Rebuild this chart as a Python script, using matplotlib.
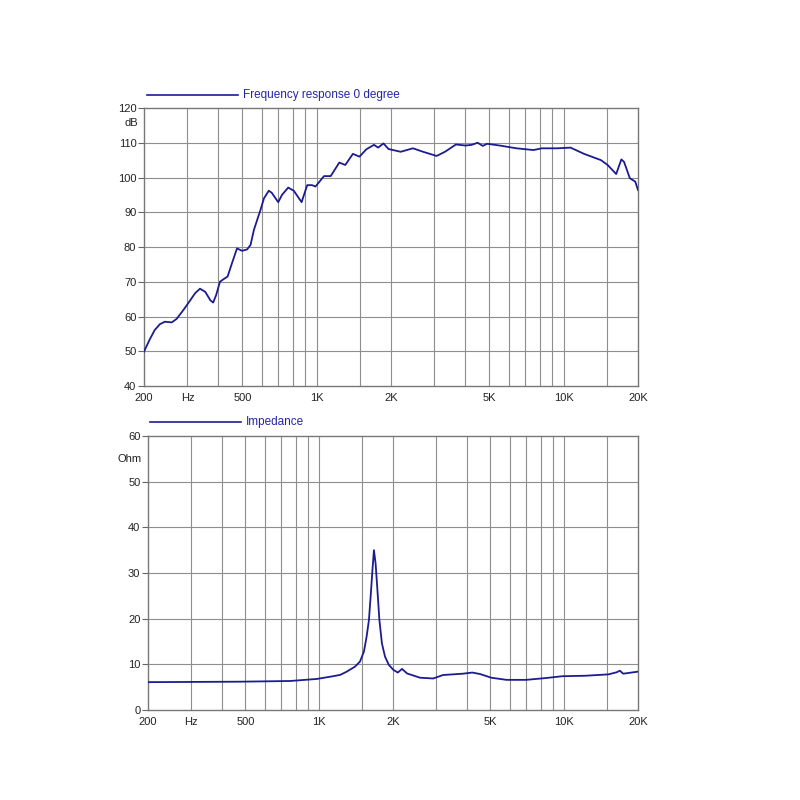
import numpy as np
import matplotlib
matplotlib.use("Agg")
import matplotlib.pyplot as plt
from matplotlib.lines import Line2D

plt.rcParams['font.family'] = ['Liberation Sans', 'DejaVu Sans']

# Frequency response 0 degree (Hz, dB)
fr_freq = [200, 211, 221, 232, 243, 259, 271, 289, 308, 322, 337, 354, 371, 381,
           392, 406, 419, 436, 454, 476, 499, 523, 540, 557, 592, 612, 640, 658,
           699, 724, 767, 808, 869, 916, 958, 989, 1071, 1140, 1235, 1306, 1402,
           1491, 1588, 1707, 1773, 1865, 1954, 2189, 2453, 2698, 3060, 3308, 3663,
           4007, 4244, 4485, 4704, 4898, 5510, 6446, 7546, 8163, 9413, 10660,
           12100, 14160, 15070, 16320, 17120, 17560, 18530, 19500, 20000]
fr_db = [49.9, 53.4, 56.1, 57.8, 58.5, 58.3, 59.3, 61.9, 64.7, 66.7, 68.0, 67.1,
         64.7, 64.0, 66.2, 70.0, 70.7, 71.5, 75.3, 79.6, 78.9, 79.3, 80.6, 84.9,
         90.6, 94.0, 96.2, 95.6, 92.9, 95.0, 97.1, 96.2, 92.9, 97.8, 97.8, 97.4,
         100.4, 100.4, 104.3, 103.6, 106.8, 106.0, 108.1, 109.4, 108.6, 109.8,
         108.2, 107.4, 108.4, 107.4, 106.2, 107.4, 109.5, 109.2, 109.4, 110.0,
         109.1, 109.7, 109.2, 108.4, 107.9, 108.4, 108.4, 108.6, 106.8, 105.0,
         103.6, 101.0, 105.2, 104.5, 99.8, 98.8, 96.4]

# Impedance (Hz, Ohm)
imp_freq = [200, 475, 760, 977, 1140, 1219, 1295, 1400, 1466, 1522, 1561, 1595,
            1624, 1649, 1672, 1698, 1724, 1760, 1802, 1855, 1922, 2006, 2093,
            2177, 2283, 2578, 2920, 3200, 3860, 4210, 4530, 5040, 5810, 6990,
            8420, 9830, 12180, 15140, 16340, 16870, 17400, 19100, 20000]
imp_ohm = [6.1, 6.2, 6.35, 6.8, 7.4, 7.7, 8.4, 9.5, 10.6, 12.8, 16.1, 19.7,
           25.5, 30.7, 35.0, 32.1, 27.0, 19.7, 14.6, 11.7, 9.9, 8.8, 8.2, 9.0,
           8.0, 7.07, 6.9, 7.66, 7.95, 8.2, 7.88, 7.07, 6.6, 6.6, 7.0, 7.4, 7.5,
           7.8, 8.25, 8.6, 7.95, 8.25, 8.4]

grid_freqs = [300, 400, 500, 600, 700, 800, 900, 1000, 1500, 2000, 3000, 4000,
              5000, 6000, 7000, 8000, 9000, 10000, 15000]
x_ticks = [200, 300, 500, 1000, 2000, 5000, 10000, 20000]
x_labels = ["200", "Hz", "500", "1K", "2K", "5K", "10K", "20K"]
db_ticks = [40, 50, 60, 70, 80, 90, 100, 110, 120]
ohm_ticks = [0, 10, 20, 30, 40, 50, 60]

curve_color = '#1c1c90'
text_color = '#2424a8'
grid_color = '#8e8e8e'

fig = plt.figure(figsize=(8, 8), dpi=100)
ax1 = fig.add_axes([0.18, 0.5175, 0.6175, 0.3475])
ax2 = fig.add_axes([0.185, 0.1125, 0.6125, 0.3425])


def style_axes(ax, yticks, ymin, ymax, unit, unit_y):
    ax.set_xscale('log')
    ax.set_xlim(200, 20000)
    ax.set_ylim(ymin, ymax)
    for f in grid_freqs:
        ax.axvline(f, color=grid_color, lw=0.8, zorder=1)
    for v in yticks[1:-1]:
        ax.axhline(v, color=grid_color, lw=0.8, zorder=1)
    ax.set_xticks(x_ticks)
    ax.set_xticklabels(x_labels)
    ax.minorticks_off()
    ax.set_yticks(yticks)
    ax.tick_params(axis='x', length=0, pad=5, labelsize=8, colors='#222222')
    ax.tick_params(axis='y', length=4, width=0.8, pad=1.5, labelsize=8,
                   colors='#222222', color='#666666')
    for s in ax.spines.values():
        s.set_color('#777777')
        s.set_linewidth(1.0)
    ax.text(-0.012, unit_y, unit, transform=ax.get_yaxis_transform(),
            ha='right', va='center', fontsize=8, color='#222222')


style_axes(ax1, db_ticks, 40, 120, "dB", 115.8)
ax1.plot(fr_freq, fr_db, color=curve_color, lw=1.3, zorder=3)

style_axes(ax2, ohm_ticks, 0, 60, "Ohm", 55)
ax2.plot(imp_freq, imp_ohm, color=curve_color, lw=1.3, zorder=3)

# legends drawn above each chart
fig.add_artist(Line2D([147 / 800, 238 / 800], [0.8815, 0.8815],
                      color=curve_color, lw=1.2))
fig.text(243 / 800, 0.8815, "Frequency response 0 degree", fontsize=8.5,
         color=text_color, va='center', ha='left')
fig.add_artist(Line2D([150 / 800, 241 / 800], [0.4725, 0.4725],
                      color=curve_color, lw=1.2))
fig.text(246 / 800, 0.4725, "Impedance", fontsize=8.5,
         color=text_color, va='center', ha='left')

fig.savefig("out.png", dpi=100, facecolor='white')
